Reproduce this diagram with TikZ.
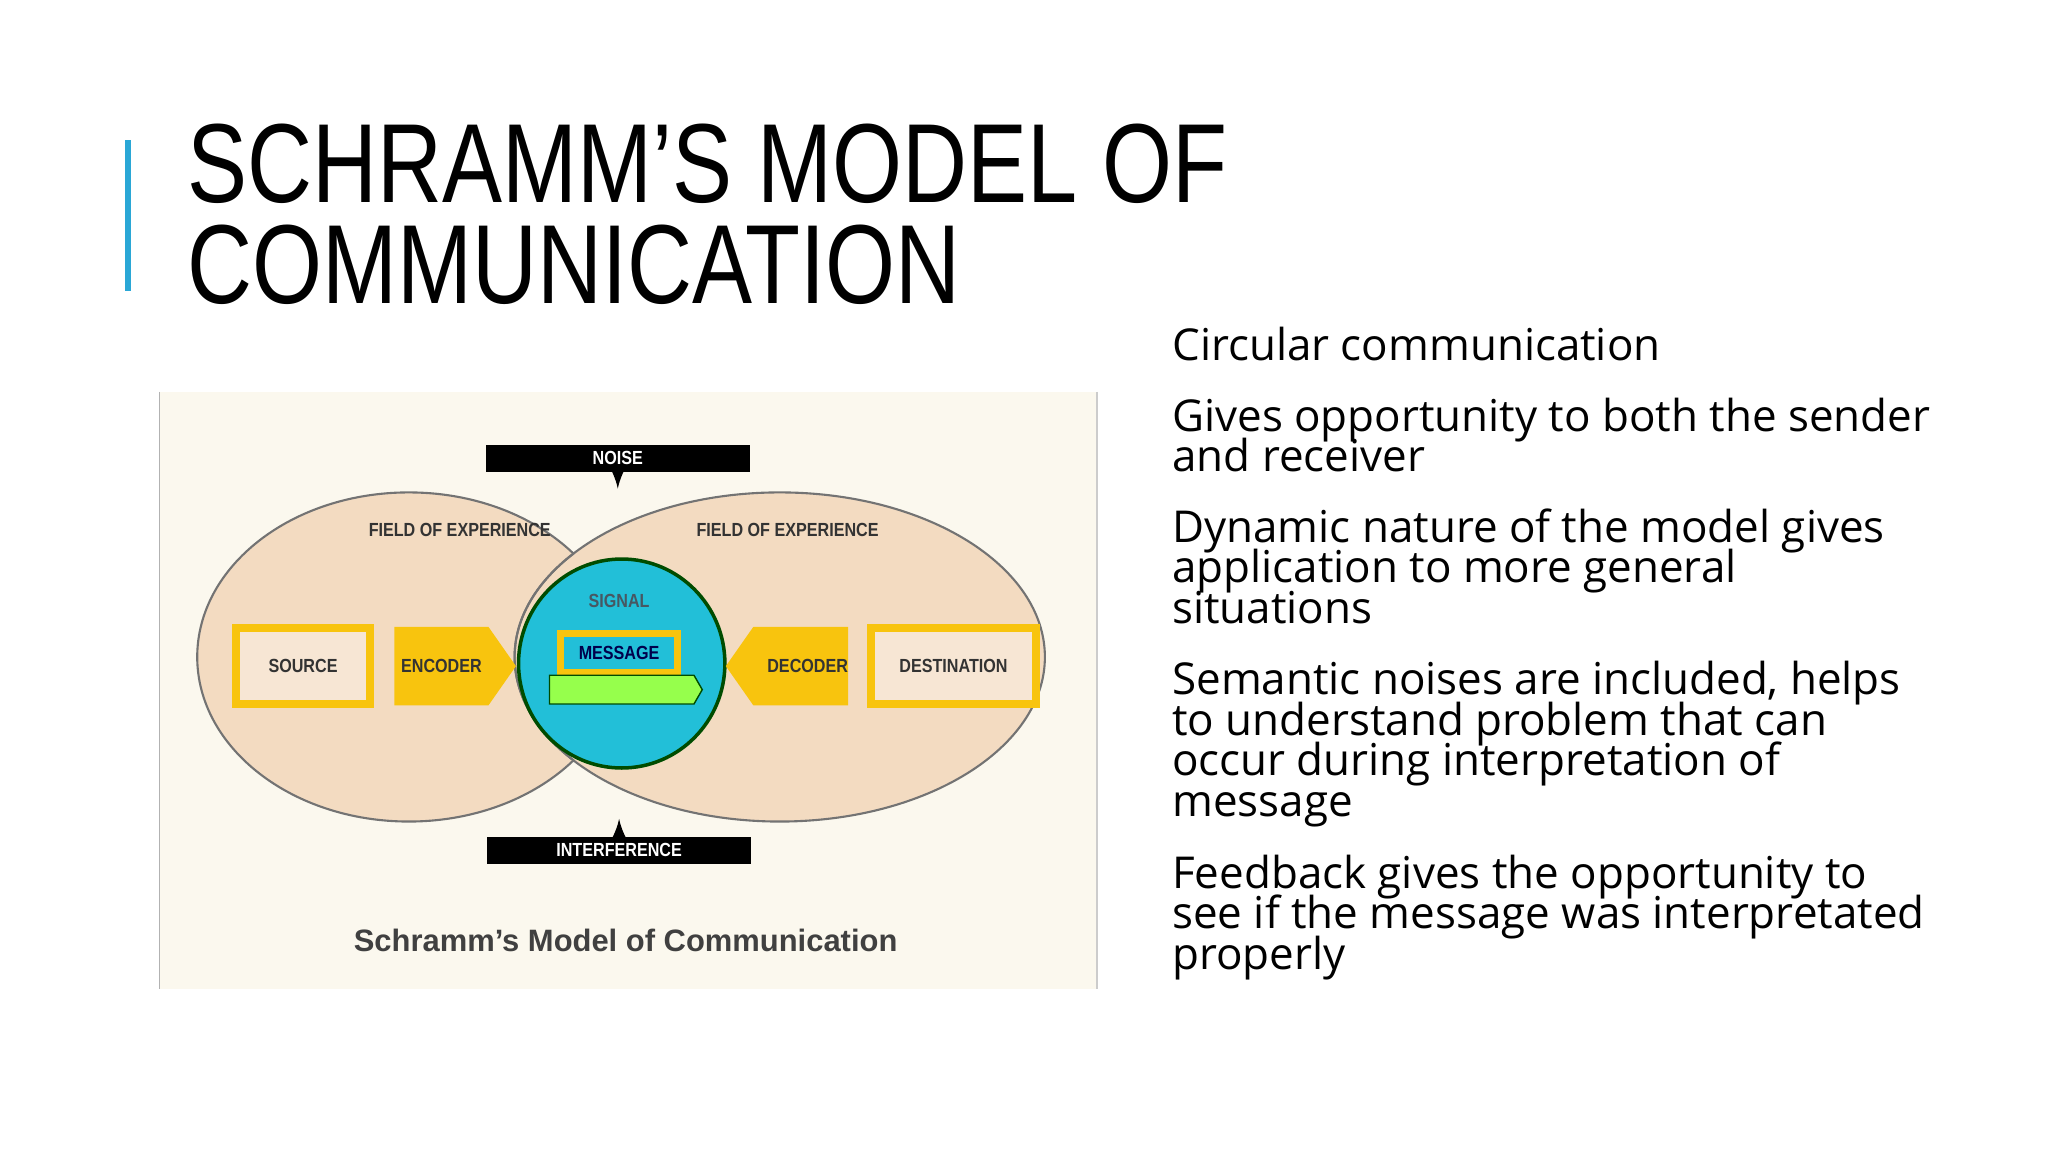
\documentclass[tikz,border=0pt]{standalone}
\usepackage{fontspec}
\setmainfont{Open Sans}
\newfontfamily\titlefont[FakeStretch=0.8]{Liberation Sans}
\newfontfamily\labfont[FakeStretch=0.85]{Liberation Sans}
\newfontfamily\capfont{Liberation Sans}
\usetikzlibrary{shapes.symbols,shapes.geometric}
\definecolor{tan}{HTML}{F3DBC1}
\definecolor{gold}{HTML}{F8C40E}
\definecolor{cyanf}{HTML}{22BFD8}
\definecolor{cream}{HTML}{FBF8EE}
\definecolor{barblue}{HTML}{2AA7D6}
\begin{document}
\begin{tikzpicture}[x=0.013061cm,y=-0.013061cm,
  lab/.style={font=\labfont\bfseries\fontsize{5.4}{6}\selectfont,text=black!80},
  blk/.style={fill=black,text=white,font=\labfont\bfseries\fontsize{5.4}{6}\selectfont,minimum height=21*0.013061cm,inner sep=0pt},
  ybox/.style={draw=gold,line width=2.2pt,fill=tan!70},
  body/.style={anchor=base west,inner sep=0pt,font=\fontsize{12.5}{12.5}\selectfont}]
\useasboundingbox (0,0) rectangle (1568,882);
\fill[white] (0,0) rectangle (1568,882);
% title
\fill[barblue] (96,107) rectangle (100,223);
\node[anchor=base west,inner sep=0pt,font=\titlefont\fontsize{32}{32}\selectfont] (t1) at (143,155) {SCHRAMM’S MODEL OF};
\node[anchor=base west,inner sep=0pt,font=\titlefont\fontsize{32}{32}\selectfont] (t2) at (143,232) {COMMUNICATION};
% right text
\node[body] (p1) at (897,276) {Circular communication};
\node[body] (p2a) at (897,330) {Gives opportunity to both the sender};
\node[body] (p2b) at (897,361) {and receiver};
\node[body] (p3a) at (897,415) {Dynamic nature of the model gives};
\node[body] (p3b) at (897,446) {application to more general};
\node[body] (p3c) at (897,477) {situations};
\node[body] (p4a) at (897,532) {Semantic noises are included, helps};
\node[body] (p4b) at (897,563) {to understand problem that can};
\node[body] (p4c) at (897,594) {occur during interpretation of};
\node[body] (p4d) at (897,625) {message};
\node[body] (p5a) at (897,680) {Feedback gives the opportunity to};
\node[body] (p5b) at (897,711) {see if the message was interpretated};
\node[body] (p5c) at (897,742) {properly};
% diagram background
\fill[cream] (122,300) rectangle (840,757);
\draw[black!30] (122,300) -- (122,757);
\draw[black!20] (840,300) -- (840,757);
% ellipses
\node[draw=black!55,fill=tan,ellipse,minimum width=324*0.013061cm,minimum height=252*0.013061cm,line width=0.6pt] (le) at (313,503) {};
\node[draw=black!55,fill=tan,ellipse,minimum width=406*0.013061cm,minimum height=252*0.013061cm,line width=0.6pt] (re) at (597,503) {};
\begin{scope}
\clip (313,503) ellipse [x radius=162,y radius=126];
\draw[black!55,line width=0.6pt] (597,503) ellipse [x radius=203,y radius=126];
\end{scope}
\node[draw=black!70!green,fill=cyanf,line width=1pt,ellipse,minimum width=158*0.013061cm,minimum height=160*0.013061cm] (sig) at (476,508) {};
\node[lab] (f1) at (352,406) {FIELD OF EXPERIENCE};
\node[lab] (f2) at (603,406) {FIELD OF EXPERIENCE};
\node[lab,text=black!70!cyan] (sg) at (474,460) {SIGNAL};
% boxes
\node[ybox,minimum width=103*0.013061cm,minimum height=58*0.013061cm,lab] (src) at (232,510) {SOURCE};
\node[fill=gold,signal,signal to=east,signal pointer angle=110,minimum width=93*0.013061cm,minimum height=60*0.013061cm,inner sep=0pt,lab] (enc) at (338,510) {ENCODER};
\node[fill=gold,signal,signal to=west,signal pointer angle=110,minimum width=93*0.013061cm,minimum height=60*0.013061cm,inner sep=0pt,lab] (dec) at (613,510) {\hspace{4pt}DECODER};
\node[ybox,minimum width=126*0.013061cm,minimum height=58*0.013061cm,lab] (dst) at (730,510) {DESTINATION};
% message
\node[draw=gold,line width=2pt,fill=cyanf,minimum width=90*0.013061cm,minimum height=30*0.013061cm,inner sep=0pt,lab,text=black!70!blue] (msg) at (474,500) {MESSAGE};
\node[draw=black!70!green,fill=green!45!lime!70,signal,signal to=east,signal pointer angle=120,minimum width=117*0.013061cm,minimum height=22*0.013061cm,inner sep=0pt] (arr) at (476,528) {};
% noise and interference
\node[blk,minimum width=202*0.013061cm] (noise) at (473,351) {NOISE};
\node[blk,minimum width=202*0.013061cm] (intf) at (474,651) {INTERFERENCE};
\draw[-latex,line width=1pt] (noise.south) -- ++(0,12);
\draw[-latex,line width=1pt] (intf.north) -- ++(0,-13);
\node[font=\capfont\bfseries\fontsize{8.8}{10}\selectfont,text=black!75] (cap) at (479,720) {Schramm’s Model of Communication};
\end{tikzpicture}
\end{document}
